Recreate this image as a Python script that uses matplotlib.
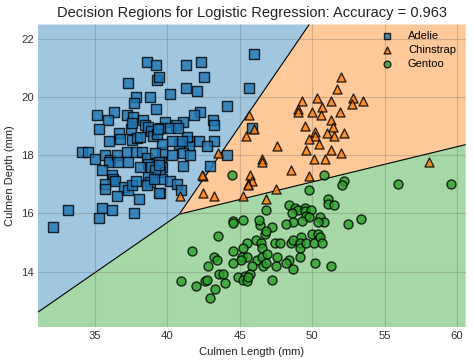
import numpy as np
import matplotlib
matplotlib.use("Agg")
import matplotlib.pyplot as plt

plt.rcParams['font.family'] = ['Liberation Sans', 'DejaVu Sans']

classes = ["Adelie", "Chinstrap", "Gentoo"]
colors = ["#1f77b4", "#ff7f0e", "#2ca02c"]
markers = ["s", "^", "o"]

adelie_len = [38.62, 39.22, 39.29, 39.47, 37.32, 37.85, 38.83, 37.73, 39.24, 35.14, 36.35, 35.92, 37.23, 37.64, 38.33,
              41.31, 42.32, 42.52, 46.0, 40.23, 41.33, 42.04, 45.64, 44.13, 42.25, 41.86, 43.14, 41.12, 40.62, 39.86, 43.25,
              45.83, 44.13, 42.96, 43.23, 42.22, 42.73, 41.53, 41.53, 41.40, 40.83, 41.05, 41.12, 41.58, 40.32, 40.32,
              39.64, 39.64, 41.12, 39.59, 39.64, 39.52, 39.64, 40.21, 40.71, 40.96, 39.52, 39.52, 40.21, 40.78,
              35.32, 36.01, 36.72, 36.77, 37.5, 37.61, 37.61, 37.92, 38.14, 38.49, 38.71, 38.88, 39.06, 39.29, 39.4,
              34.13, 34.55, 35.05, 35.74, 36.07, 36.03, 36.58, 36.65, 37.23, 37.34, 37.87, 38.26, 38.6, 38.71, 39.17,
              39.47, 38.14, 38.88, 39.17, 39.47, 35.51, 36.2, 36.27, 36.42, 35.74, 35.74, 37.06, 37.34, 37.57, 37.87,
              38.71, 38.83, 38.6, 39.1, 39.47, 36.54, 38.08, 33.14, 35.51, 35.28, 36.2, 37.73, 32.14]
adelie_dep = [21.19, 21.09, 20.59, 20.67, 20.49, 19.98, 19.98, 19.79, 19.59, 19.38, 19.49, 19.19, 19.38, 19.30, 19.19,
              21.09, 21.19, 20.68, 21.48, 20.11, 20.29, 20.19, 20.29, 19.69, 19.49, 19.39, 19.20, 19.12, 19.02, 19.12, 19.02,
              18.94, 18.01, 17.61, 18.50, 18.50, 18.30, 18.50, 18.31, 18.62, 18.39, 18.50, 18.07, 17.99, 18.50, 18.00,
              18.10, 18.39, 17.61, 17.76, 17.59, 17.42, 17.19, 17.10, 17.02, 16.79, 16.71, 18.94, 18.94, 18.94,
              18.90, 18.50, 18.77, 18.56, 18.90, 19.09, 18.53, 18.59, 18.62, 19.05, 18.96, 18.84, 18.67, 18.73, 18.90,
              18.10, 18.10, 17.88, 17.99, 17.84, 17.76, 18.01, 17.76, 18.10, 17.78, 18.10, 18.10, 17.90, 17.71, 18.07,
              17.76, 17.59, 17.59, 17.48, 17.65, 17.50, 17.31, 17.19, 17.10, 17.02, 16.85, 16.91, 16.79, 16.99, 17.10,
              17.25, 17.08, 16.99, 17.19, 16.70, 16.59, 16.49, 16.11, 16.20, 15.85, 16.11, 16.00, 15.52]

chinstrap_len = [45.64, 52.01, 51.71, 49.31, 50.32, 51.3, 52.79, 53.5, 52.72, 50.71, 49.03, 49.03, 50.0, 50.61, 51.9, 51.3,
                 49.51, 51.44, 50.2, 50.2, 51.03, 51.51, 52.19, 49.75, 50.5, 49.61, 51.28, 52.01, 50.11, 50.89, 48.53, 49.81,
                 45.41, 46.0, 47.61, 43.49, 46.51, 46.55, 42.5, 42.39, 45.71, 45.83, 45.59, 45.55, 42.5, 43.23, 45.21,
                 40.91, 47.5, 46.81, 58.02]
chinstrap_dep = [19.37, 20.67, 20.27, 19.87, 19.97, 19.87, 19.97, 19.87, 19.76, 19.66, 19.59, 19.49, 19.49, 19.37, 19.48, 19.19,
                 18.99, 18.96, 18.79, 18.67, 18.77, 18.67, 18.77, 18.56, 18.39, 18.18, 18.18, 18.08, 17.88, 17.88, 17.48, 17.28,
                 18.67, 18.88, 18.31, 18.08, 17.88, 17.76, 17.27, 17.33, 17.31, 17.10, 17.02, 16.96, 16.71, 16.59, 16.59,
                 16.59, 16.82, 16.49, 17.76]

gentoo_len = [44.45, 46.81, 44.52,
              50.82, 52.22, 52.08, 55.91, 49.81, 51.09, 51.09, 51.49, 48.41, 48.80, 49.03, 49.49, 49.51, 49.92, 48.6,
              49.61, 49.79, 50.52, 50.82, 49.33, 48.69, 48.18, 52.5, 53.39,
              50.41, 48.51, 48.69, 49.2, 49.15, 49.15, 49.61, 50.11, 49.99, 50.41, 50.52, 50.71, 48.41, 48.23, 49.15,
              48.69, 50.2, 51.3,
              44.52, 45.25, 46.4, 46.35, 47.2, 46.74, 46.81, 43.53, 41.72, 45.52, 46.12, 46.46, 46.55, 47.43, 47.77,
              45.25, 44.52, 45.14, 45.48, 45.09, 46.17, 46.51, 46.9, 47.61, 43.23, 43.42, 44.52, 42.8, 45.83, 46.58,
              46.81, 47.5, 43.6, 43.83, 44.9, 45.36, 45.71, 45.25, 45.48, 45.55, 40.94, 42.61, 42.73, 43.99, 47.2,
              42.01, 43.32, 42.96, 59.58]
gentoo_dep = [17.31, 16.11, 15.73,
              17.31, 17.10, 16.99, 17.00, 16.79, 16.51, 16.31, 16.29, 16.30, 16.20, 16.11, 16.20, 16.09, 16.11, 16.00,
              15.91, 15.88, 15.88, 15.71, 15.73, 15.69, 15.64, 15.63, 15.80,
              15.69, 14.99, 15.08, 15.20, 14.99, 14.80, 14.99, 14.99, 15.29, 15.29, 15.20, 14.99, 14.40, 14.31, 14.51,
              14.09, 14.31, 14.20,
              15.68, 15.77, 15.60, 15.77, 15.52, 15.31, 15.40, 15.22, 14.71, 14.99, 15.08, 14.99, 14.80, 14.99, 14.99,
              14.80, 14.71, 14.51, 14.51, 14.40, 14.40, 14.51, 14.59, 14.51, 14.51, 14.40, 14.31, 14.20, 14.20, 14.20,
              14.31, 14.20, 13.91, 13.91, 13.81, 13.85, 13.91, 13.72, 13.69, 13.81, 13.69, 13.69, 13.72, 13.60, 13.72,
              13.51, 13.41, 13.11, 17.00]

# linear class scores (Adelie, Chinstrap, Gentoo): score = w_len*x + w_dep*y + b
w_len = [-0.547, -0.121, 0.0]
w_dep = [1.586, 1.0, 0.0]
bias = [-2.99, -11.03, 0.0]

title = "Decision Regions for Logistic Regression: Accuracy = 0.963"

x_min, x_max = 32.1 - 1, 59.6 + 1
y_min, y_max = 13.1 - 1, 21.5 + 1

xx, yy = np.meshgrid(np.arange(x_min, x_max, 0.02), np.arange(y_min, y_max, 0.02))
scores = np.stack([w_len[k] * xx + w_dep[k] * yy + bias[k] for k in range(3)])
Z = np.argmax(scores, axis=0)

fig = plt.figure(figsize=(4.74, 3.63), dpi=100)
ax = fig.add_axes([0.080, 0.099, 0.903, 0.835])
ax.contourf(xx, yy, Z, levels=[-0.5, 0.5, 1.5, 2.5], colors=colors, alpha=0.42, antialiased=True)

# boundary lines
pairs = [(0, 1, 2), (0, 2, 1), (1, 2, 0)]
for a, b, c in pairs:
    d = scores[a] - scores[b]
    mask = scores[c] > np.maximum(scores[a], scores[b])
    ax.contour(xx, yy, np.ma.array(d, mask=mask), levels=[0], colors="black", linewidths=0.8)

data = [(adelie_len, adelie_dep), (chinstrap_len, chinstrap_dep), (gentoo_len, gentoo_dep)]
for k, (lx, dy) in enumerate(data):
    ax.scatter(lx, dy, s=42, marker=markers[k], c=colors[k], alpha=0.8,
               edgecolors="black", linewidths=1.0, label=classes[k], zorder=3)

ax.set_xlim(x_min, x_max)
ax.set_ylim(y_min, y_max)
ax.set_xticks([35, 40, 45, 50, 55, 60])
ax.set_yticks([14, 16, 18, 20, 22])
ax.grid(True, color="#555555", alpha=0.25, linewidth=0.8)
ax.set_axisbelow(False)
for s in ax.spines.values():
    s.set_visible(False)
ax.tick_params(length=0, labelsize=8.2, colors="#333333", pad=3)
ax.set_xlabel("Culmen Length (mm)", fontsize=8, color="#222222")
ax.set_ylabel("Culmen Depth (mm)", fontsize=8, color="#222222")
ax.set_title(title, fontsize=10.5, color="#222222", pad=5)
leg = ax.legend(loc="upper right", frameon=False, fontsize=8, markerscale=0.75,
                handletextpad=0.9, labelspacing=0.35, bbox_to_anchor=(1.0, 1.01))
for h in leg.legend_handles:
    h.set_alpha(0.8)

fig.savefig("out.png", dpi=100)
